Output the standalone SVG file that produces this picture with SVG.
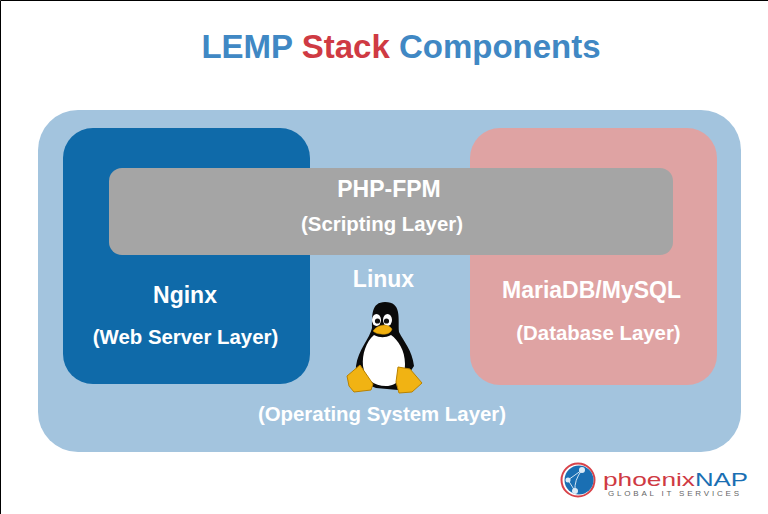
<svg xmlns="http://www.w3.org/2000/svg" width="768" height="514" viewBox="0 0 768 514">
<style>
text{font-family:"Liberation Sans",Arial,sans-serif;font-weight:700;fill:#fff;text-anchor:middle}
.h{font-size:23px}.s{font-size:20.4px}
.t{font-size:33px}
.l{font-weight:400;text-anchor:start}
.f{fill:#f1b313;stroke:#b98200;stroke-width:1;stroke-linejoin:round}
</style>
<rect width="768" height="514" fill="#fff"/>
<path d="M0.5 514V0.5H768" fill="none" stroke="#000" stroke-width="1"/>
<text class="t" x="401" y="58" style="fill:#4088c4">LEMP <tspan style="fill:#cf3a43">Stack</tspan> Components</text>
<g id="os-layer"><rect x="38" y="110" width="703" height="342" rx="40" fill="#a3c4de"/></g>
<g id="nginx"><rect x="63" y="128" width="247" height="256" rx="30" fill="#0f6aa9"/>
<text class="h" x="185" y="303">Nginx</text><text class="s" x="185.5" y="344">(Web Server Layer)</text></g>
<g id="mariadb"><rect x="470" y="128" width="247" height="257" rx="30" fill="#dfa3a3"/>
<text class="h" x="591.5" y="298">MariaDB/MySQL</text><text class="s" x="598.5" y="340">(Database Layer)</text></g>
<g id="php"><rect x="109" y="168" width="564" height="87" rx="13" fill="#a5a5a5"/>
<text class="h" x="389" y="197">PHP-FPM</text><text class="s" x="382" y="231">(Scripting Layer)</text></g>
<g id="linux"><text class="h" x="383.5" y="287">Linux</text>
<text class="s" x="382" y="421">(Operating System Layer)</text>
<path d="M385 302C371 302 372 316 372 328C370 338 358 350 356 366C355 376 358 384 366 384L376 388L398 390L410 372L414 366C412 350 404 342 399 332C398 318 402 302 385 302Z" fill="#0a0a0a"/>
<path d="M374 335C366 342 362 354 363 366C365 380 374 386 386 386C398 386 405 376 405 364C405 350 398 340 391 335C385 338 380 338 374 335Z" fill="#fff"/>
<ellipse cx="376.500" cy="320" rx="4.500" ry="6" fill="#fff"/><ellipse cx="387.500" cy="320" rx="4.500" ry="6" fill="#fff"/>
<circle cx="377.500" cy="321" r="2.600" fill="#111"/><circle cx="386.500" cy="321" r="2.600" fill="#111"/>
<path d="M373 331C378 324 388 323 392 329C391 334 384 335 381 334C378 334 375 333 373 331Z" fill="#f0b010" stroke="#c58c00" stroke-width=".5"/>
<path class="f" d="M347 376L360 365L373 384L371 390L354 392L349 386Z"/>
<path class="f" d="M398 367L410 369L422 383L412 392L399 393L396 382Z"/></g>
<g id="logo">
<circle cx="578" cy="480" r="16.500" fill="#fff" stroke="#d8434a" stroke-width="2"/>
<circle cx="579" cy="480" r="14.500" fill="#1a6fb3"/>
<path d="M582 470L568 480L575 491M582 470Q574 480 575 491" fill="none" stroke="#cfe2f2"/>
<circle cx="582" cy="470" r="3" fill="#dcebf7"/><circle cx="568" cy="480" r="2.500" fill="#dcebf7"/><circle cx="575" cy="491" r="3" fill="#dcebf7"/>
<text class="l" x="603" y="486" style="font-size:19px;fill:#cf3a43" textLength="92" lengthAdjust="spacingAndGlyphs">phoenix</text>
<text class="l" x="695" y="486" style="font-size:18px;fill:#1a6fb3" textLength="53" lengthAdjust="spacingAndGlyphs">NAP</text>
<text class="l" x="608" y="496" style="font-size:8px;fill:#666" textLength="131" lengthAdjust="spacing">GLOBAL IT SERVICES</text>
</g>
</svg>
